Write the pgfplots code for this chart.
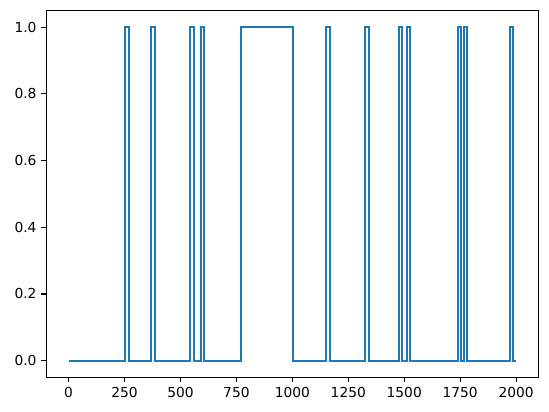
\documentclass[border=0pt]{standalone}
\usepackage{fontspec}
\setmainfont{DejaVu Sans}
\usepackage{pgfplots}
\pgfplotsset{compat=1.18}
\definecolor{mplblue}{HTML}{1F77B4}
\begin{document}
\begin{tikzpicture}
\begin{axis}[
  scale only axis,
  width=357pt, height=266pt,
  xmin=-100, xmax=2100,
  ymin=-0.05, ymax=1.05,
  xtick={0,250,500,750,1000,1250,1500,1750,2000},
  ytick={0,0.2,0.4,0.6,0.8,1.0},
  yticklabel style={/pgf/number format/.cd,fixed,fixed zerofill,precision=1},
  xticklabel style={/pgf/number format/.cd,fixed,1000 sep={}},
  /pgf/number format/assume math mode=true,
  tick label style={font=\fontsize{10}{12}\selectfont},
  tick align=outside,
  xtick pos=bottom, ytick pos=left,
  major tick length=3.5pt,
  every tick/.style={line width=0.8pt, black},
  axis line style={line width=0.8pt},
]
\addplot[mplblue, line width=1.5pt, const plot, line join=miter] coordinates {
(0,0) (253,1) (269,0) (367,1) (385,0) (543,1) (562,0) (592,1) (606,0)
(771,1) (1004,0) (1150,1) (1167,0) (1326,1) (1344,0) (1477,1) (1491,0)
(1511,1) (1525,0) (1739,1) (1753,0) (1767,1) (1780,0) (1971,1) (1985,0) (1999,0)
};
\end{axis}
\coordinate (bbsw) at (current bounding box.south west);
\coordinate (bbne) at (current bounding box.north east);
\path (bbsw) ++(-7.2pt,-7.2pt) coordinate (p1);
\path (bbne) ++(7.2pt,7.2pt) coordinate (p2);
\useasboundingbox (p1) rectangle (p2);
\end{tikzpicture}
\end{document}
